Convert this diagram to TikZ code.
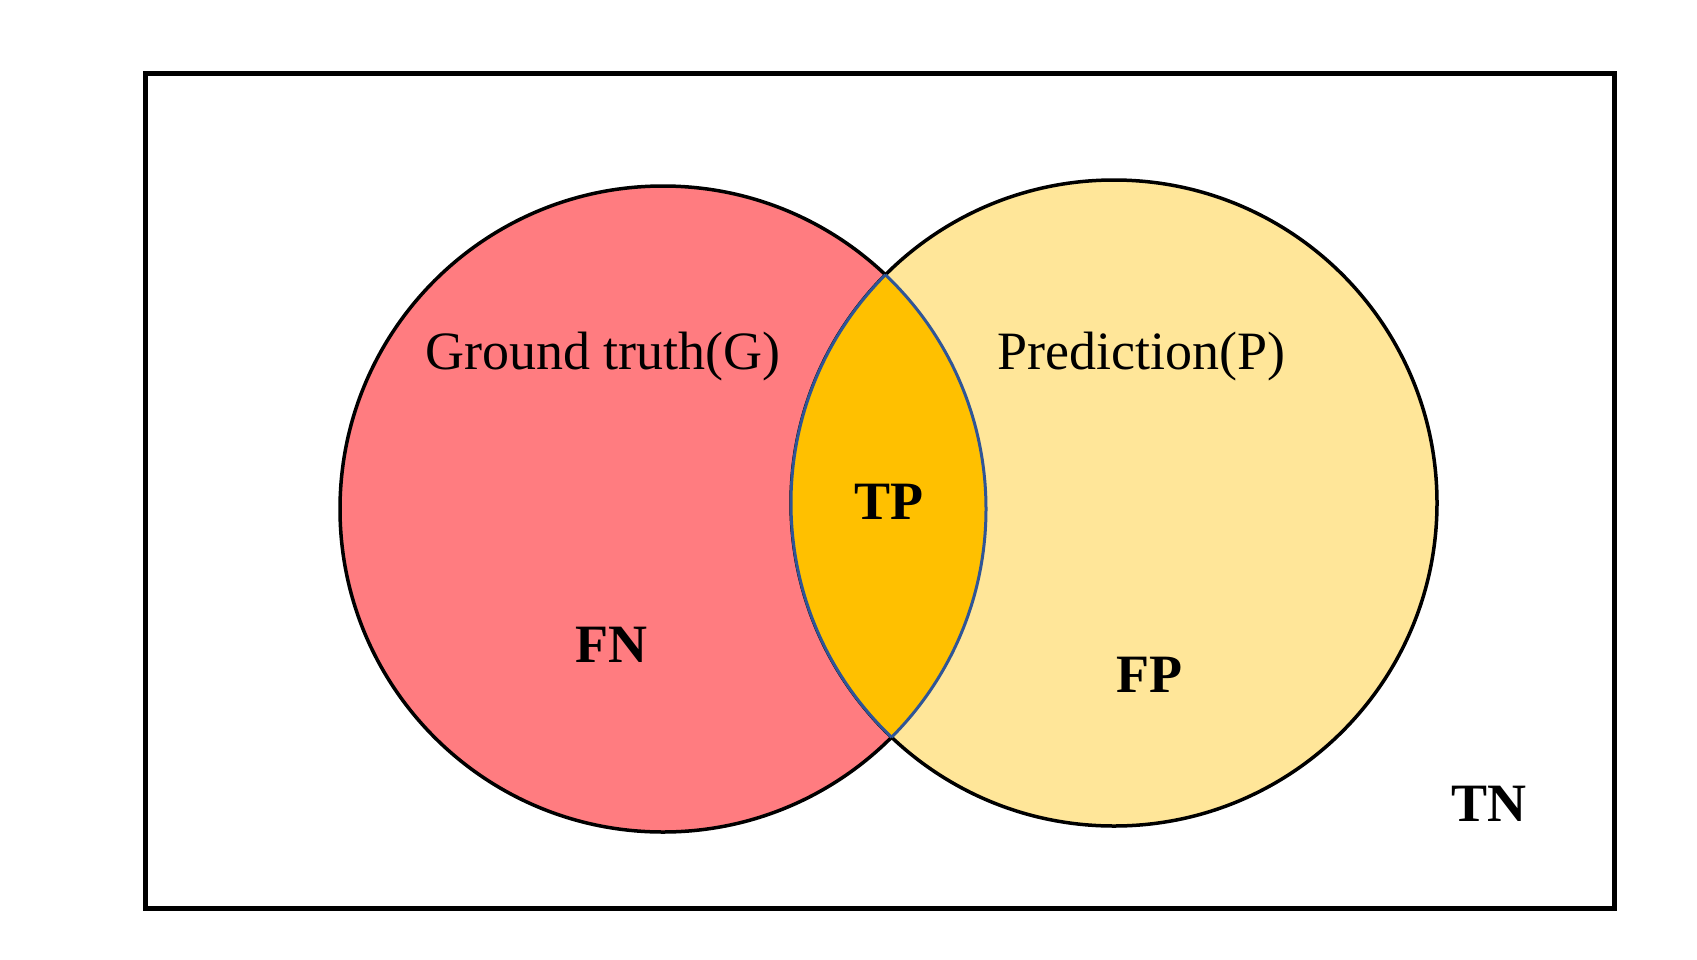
\documentclass[tikz,border=0pt]{standalone}
\usepackage{fontspec}
\setmainfont{Liberation Serif}
\definecolor{gt}{HTML}{FF7C80}
\definecolor{pr}{HTML}{FFE699}
\definecolor{tp}{HTML}{FFC000}
\definecolor{lens}{HTML}{2F5597}
\begin{document}
\begin{tikzpicture}[x=1pt,y=-1pt,
  lbl/.style={font=\fontsize{54}{60}\selectfont},
  blbl/.style={font=\fontsize{54}{60}\selectfont\bfseries}]
\useasboundingbox (0,0) rectangle (1697,959);
\draw[line width=5pt] (145,73) rectangle (1614,908);
\draw[line width=3.5pt, fill=gt] (663,509) circle (323);
\draw[line width=3.5pt, fill=pr] (1114,503) circle (323);
\begin{scope}
\clip (663,509) circle (323);
\fill[tp] (1114,503) circle (323);
\end{scope}
\begin{scope}
\clip (663,509) circle (323);
\draw[lens, line width=3pt] (1114,503) circle (323);
\end{scope}
\begin{scope}
\clip (1114,503) circle (323);
\draw[lens, line width=3pt] (663,509) circle (323);
\end{scope}
\node[lbl] (g) at (603,357) {Ground truth(G)};
\node[lbl] (p) at (1141,357) {Prediction(P)};
\node[blbl] (tpn) at (889,502) {TP};
\node[blbl] (fn) at (611,645) {FN};
\node[blbl] (fp) at (1149,675) {FP};
\node[blbl] (tn) at (1489,804) {TN};
\end{tikzpicture}
\end{document}
